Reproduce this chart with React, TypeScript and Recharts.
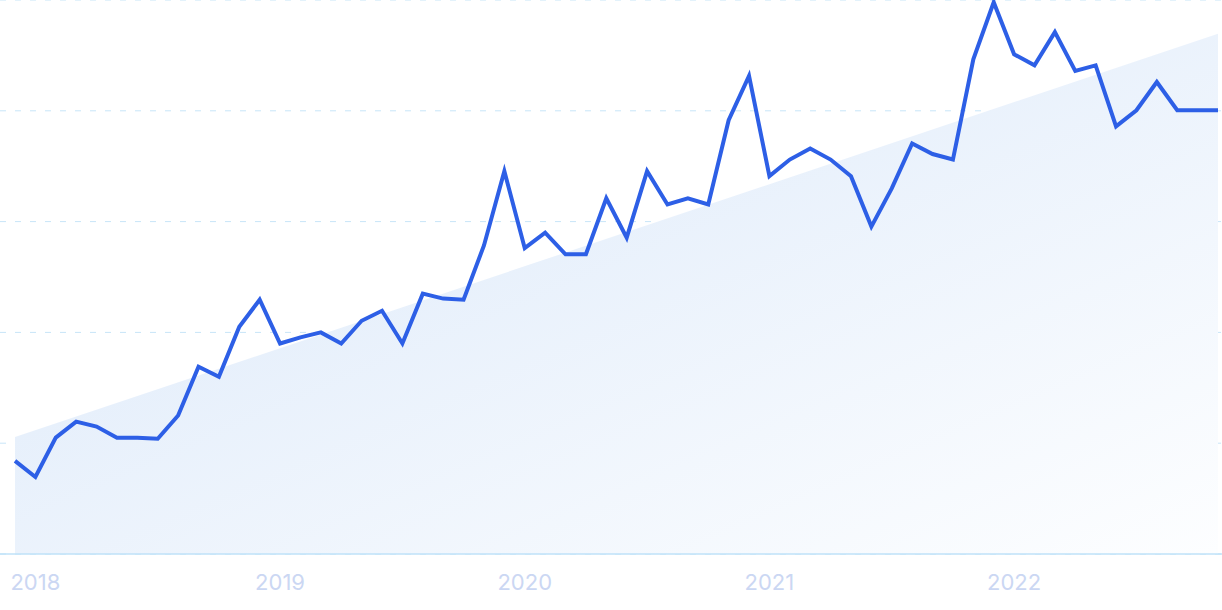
import { ComposedChart, Area, Line, XAxis, YAxis, CartesianGrid } from 'recharts'

// monthly points, Dec 2017 .. Nov 2022
const months = [
  '2017-12',
  '2018-01', '2018-02', '2018-03', '2018-04', '2018-05', '2018-06', '2018-07', '2018-08', '2018-09', '2018-10', '2018-11', '2018-12',
  '2019-01', '2019-02', '2019-03', '2019-04', '2019-05', '2019-06', '2019-07', '2019-08', '2019-09', '2019-10', '2019-11', '2019-12',
  '2020-01', '2020-02', '2020-03', '2020-04', '2020-05', '2020-06', '2020-07', '2020-08', '2020-09', '2020-10', '2020-11', '2020-12',
  '2021-01', '2021-02', '2021-03', '2021-04', '2021-05', '2021-06', '2021-07', '2021-08', '2021-09', '2021-10', '2021-11', '2021-12',
  '2022-01', '2022-02', '2022-03', '2022-04', '2022-05', '2022-06', '2022-07', '2022-08', '2022-09', '2022-10', '2022-11',
]

const interest = [
  16.8,
  13.9, 21.0, 23.9, 23.0, 21.0, 21.0, 20.8, 25.0, 33.8, 32.0, 41.0, 45.9,
  38.0, 39.1, 40.0, 38.0, 42.1, 43.9, 38.0, 47.0, 46.1, 45.9, 55.7, 69.1,
  55.2, 58.0, 54.1, 54.1, 64.2, 57.1, 69.1, 63.1, 64.2, 63.1, 78.3, 86.3,
  68.2, 71.2, 73.2, 71.2, 68.2, 59.1, 66.0, 74.1, 72.2, 71.2, 89.3, 99.6,
  90.2, 88.2, 94.2, 87.2, 88.2, 77.2, 80.1, 85.2, 80.1, 80.1, 80.1,
]

// trend band: only the two end values, joined straight
const trendStart = 21.1
const trendEnd = 93.9

const yearTicks = ['2018-01', '2019-01', '2020-01', '2021-01', '2022-01']
const yearLabels = ['2018', '2019', '2020', '2021', '2022']

const data = months.map((m, i) => ({
  month: m,
  value: interest[i],
  trend: i === 0 ? trendStart : i === months.length - 1 ? trendEnd : null,
}))

export default function App() {
  return (
    <div style={{ position: 'absolute', left: 0, top: 0, width: 1222, height: 610, background: '#fff' }}>
      <ComposedChart width={1222} height={610} data={data} margin={{ top: 0, right: 0, bottom: 0, left: 0 }}>
        <defs>
          <linearGradient id="trendFill" x1="0" y1="0" x2="1" y2="1">
            <stop offset="0%" stopColor="#d9e7f9" />
            <stop offset="100%" stopColor="#fdfeff" />
          </linearGradient>
        </defs>
        <CartesianGrid vertical={false} stroke="#c8e5f8" strokeDasharray="6 9" />
        <XAxis
          dataKey="month"
          ticks={yearTicks}
          tickFormatter={(m: string) => yearLabels[yearTicks.indexOf(m)] ?? ''}
          padding={{ left: 15, right: 4 }}
          height={56}
          axisLine={{ stroke: '#bfe2f8', strokeWidth: 1.5 }}
          tickLine={false}
          tickMargin={14}
          tick={{ fill: '#cbd7f3', fontSize: 22, fontFamily: 'Inter' }}
          interval={0}
        />
        <YAxis hide domain={[0, 100]} ticks={[20, 40, 60, 80, 100]} />
        <Area
          dataKey="trend"
          type="linear"
          connectNulls
          stroke="none"
          fill="url(#trendFill)"
          fillOpacity={1}
          dot={false}
          activeDot={false}
          isAnimationActive={false}
          baseValue={0}
        />
        <Line
          dataKey="value"
          type="linear"
          stroke="#2d5fe6"
          strokeWidth={4}
          dot={false}
          activeDot={false}
          isAnimationActive={false}
        />
      </ComposedChart>
    </div>
  )
}
